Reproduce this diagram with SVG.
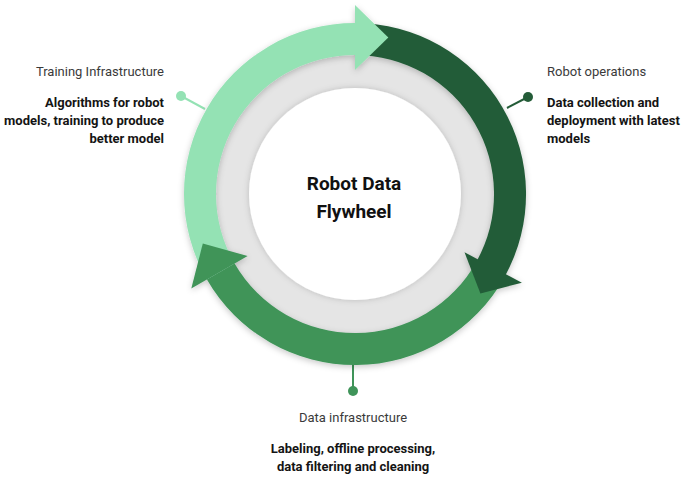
<svg xmlns="http://www.w3.org/2000/svg" width="685" height="478" viewBox="0 0 685 478">
<defs>
<filter id="sh" x="-20%" y="-20%" width="140%" height="140%">
<feDropShadow dx="0" dy="2" stdDeviation="3" flood-color="#000" flood-opacity="0.22"/>
</filter>
<filter id="sh2" x="-20%" y="-20%" width="140%" height="140%">
<feDropShadow dx="0" dy="0" stdDeviation="3" flood-color="#000" flood-opacity="0.18"/>
</filter>
</defs>
<style>
.t{font-family:Roboto,"Liberation Sans",sans-serif;font-size:13px;fill:#3a3a3a}
.b{font-family:Roboto,"Liberation Sans",sans-serif;font-size:13px;font-weight:bold;fill:#141414}
.c{font-family:Roboto,"Liberation Sans",sans-serif;font-size:19px;font-weight:bold;fill:#111}
.light{fill:#94E2B4}
.dark{fill:#245C38}
.mid{fill:#3F9459}
</style>
<rect width="685" height="478" fill="#fff"/>
<g id="hub">
<circle cx="355" cy="194" r="150" fill="#E5E5E5"/>
<circle cx="355" cy="194" r="106" fill="#fff" filter="url(#sh2)"/>
</g>
<g id="connectors">
<line x1="205" y1="109" x2="181" y2="96" stroke="#94E2B4" stroke-width="2"/>
<circle cx="181" cy="96" r="5" class="light"/>
<line x1="507" y1="108" x2="528" y2="97" stroke="#245C38" stroke-width="2"/>
<circle cx="528" cy="97" r="5" class="dark"/>
<line x1="353" y1="362" x2="353" y2="390" stroke="#3F9459" stroke-width="2"/>
<circle cx="353" cy="391" r="5" class="mid"/>
</g>
<g filter="url(#sh)">
<g id="training-body"><path class="light" d="M206.9,279.5 A171,171 0 0 1 355,23 L355,55 A139,139 0 0 0 234.6,263.5 Z"/></g>
<g id="operations-body"><path class="dark" d="M355,23 A171,171 0 0 1 504.6,276.9 L476.6,261.4 A139,139 0 0 0 355,55 Z"/></g>
<g id="data-body"><path class="mid" d="M504.6,276.9 A171,171 0 0 1 206.9,279.5 L234.6,263.5 A139,139 0 0 0 476.6,261.4 Z"/></g>
<g id="training-head"><polygon class="light" points="355,5 388.3,37.5 355,70"/></g>
<g id="operations-head"><polygon class="dark" points="521.9,282.7 480.4,293.4 464.5,252.2"/></g>
<g id="data-head"><polygon class="mid" points="191.3,288.5 202.8,243.4 247.6,256"/></g>
</g>
<g id="center">
<text class="c" x="354" y="190" text-anchor="middle">Robot Data</text>
<text class="c" x="354" y="218" text-anchor="middle">Flywheel</text>
</g>
<g id="training">
<text class="t" x="164" y="76" text-anchor="end">Training Infrastructure</text>
<text class="b" x="164" y="107" text-anchor="end">Algorithms for robot</text>
<text class="b" x="164" y="125" text-anchor="end">models, training to produce</text>
<text class="b" x="164" y="143" text-anchor="end">better model</text>
</g>
<g id="operations">
<text class="t" x="547" y="76">Robot operations</text>
<text class="b" x="547" y="107">Data collection and</text>
<text class="b" x="547" y="125">deployment with latest</text>
<text class="b" x="547" y="143">models</text>
</g>
<g id="data">
<text class="t" x="353" y="422" text-anchor="middle">Data infrastructure</text>
<text class="b" x="353" y="453" text-anchor="middle">Labeling, offline processing,</text>
<text class="b" x="353" y="471" text-anchor="middle">data filtering and cleaning</text>
</g>
</svg>
